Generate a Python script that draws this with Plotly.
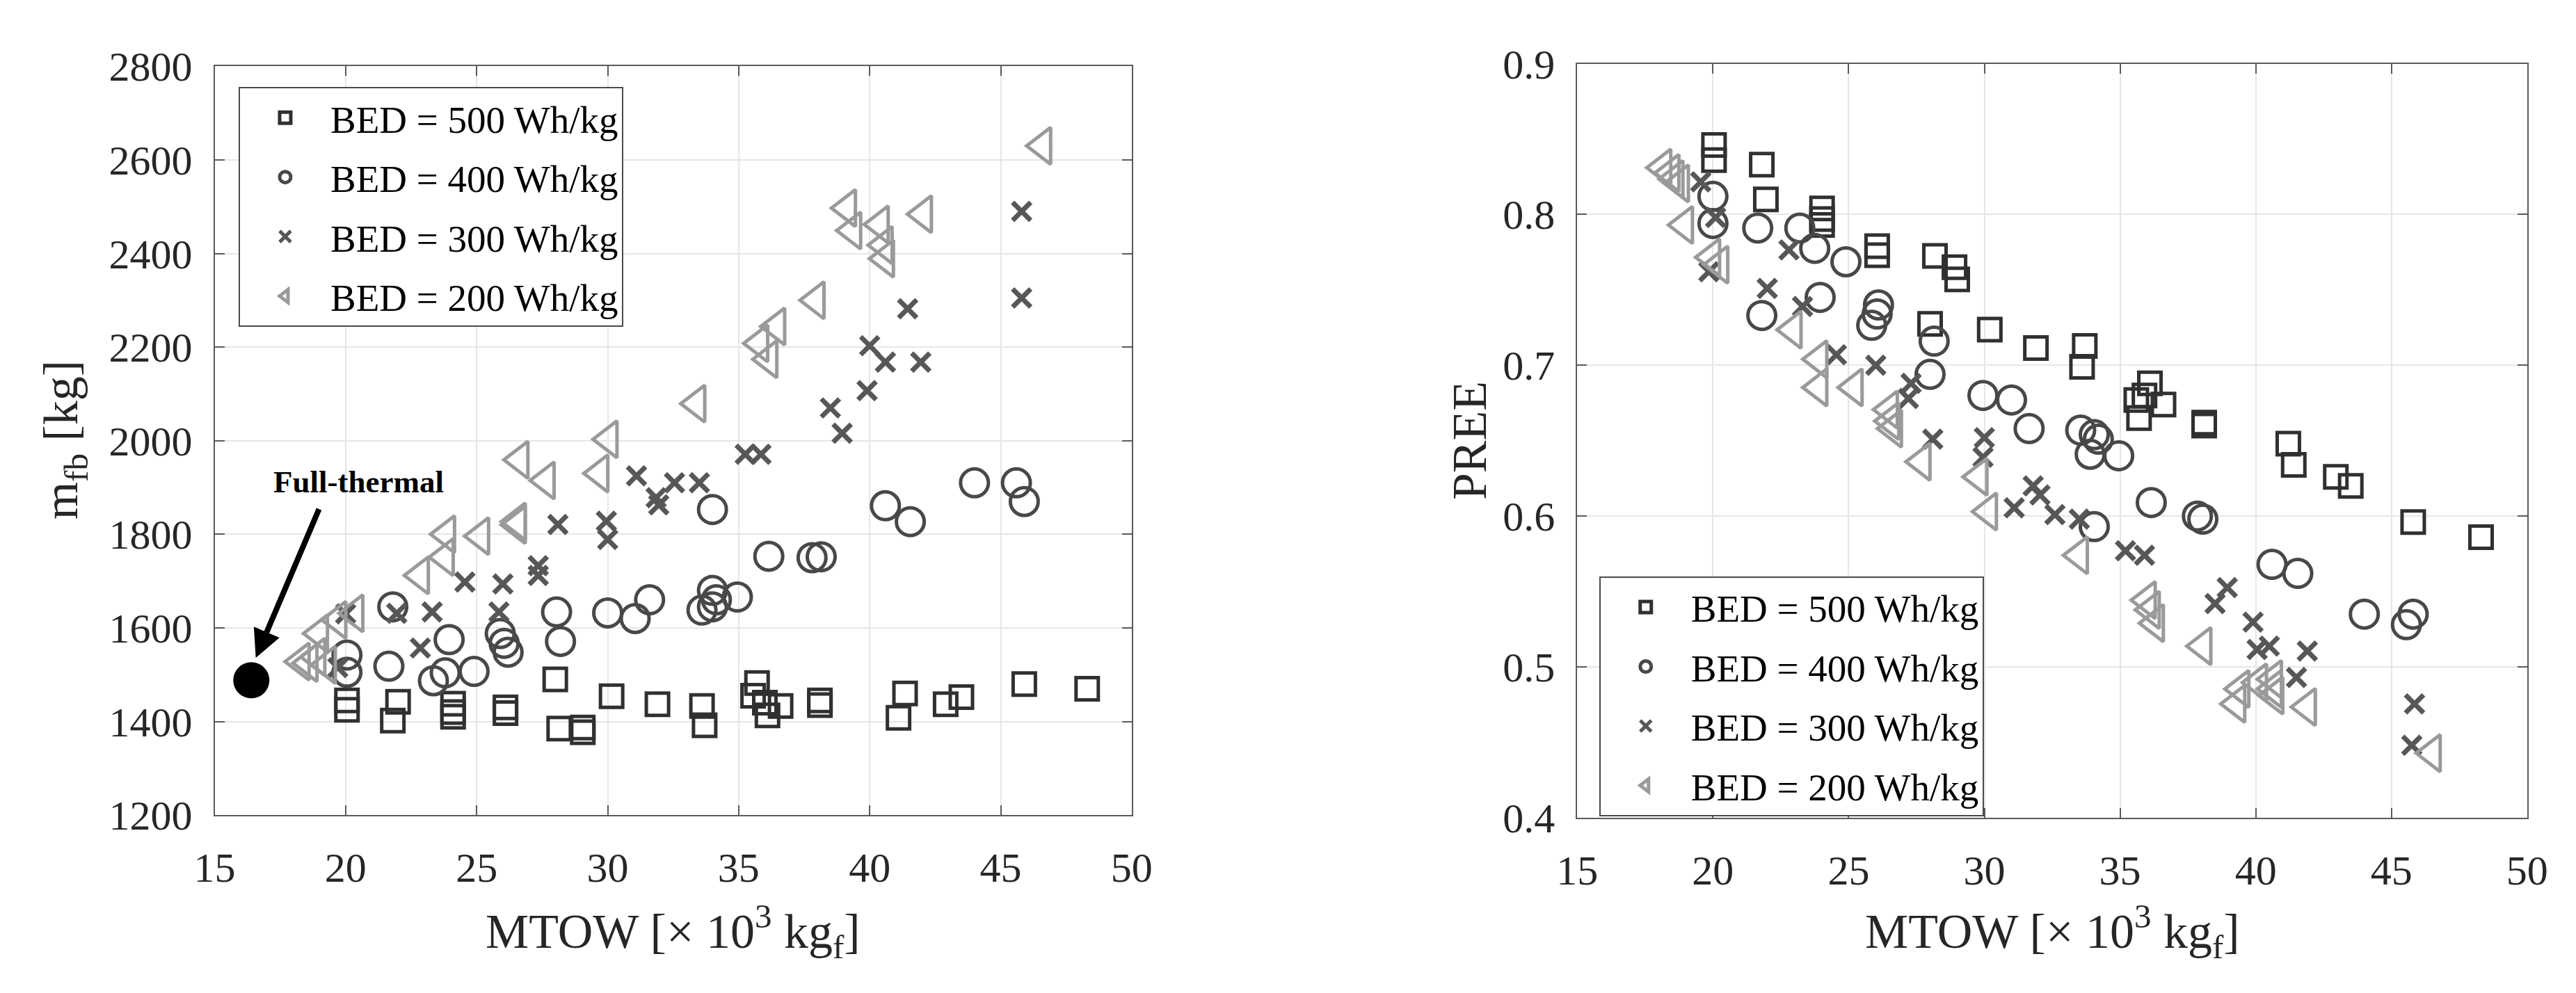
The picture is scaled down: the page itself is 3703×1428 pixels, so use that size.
import plotly.graph_objects as go

# ---------------- data ----------------
# Left panel: fuel burned m_fb [kg] vs MTOW [x10^3 kgf]
mtow500_l = [20.05, 20.05, 22.0, 21.8, 24.1, 24.1, 24.1, 26.1, 26.1, 28.0, 28.15, 29.05, 29.05,
             30.15, 31.9, 33.6, 33.7, 35.7, 35.55, 36.0, 36.1, 36.6, 38.1, 38.1, 41.35, 41.1,
             42.9, 43.5, 45.9, 48.3]
mfb500 = [1445, 1425, 1442, 1402, 1438, 1420, 1410, 1430, 1418, 1490, 1385, 1387, 1377,
          1454, 1437, 1433, 1392, 1482, 1455, 1440, 1413, 1433, 1445, 1435, 1460, 1408,
          1437, 1452, 1480, 1470]

mtow400_l = [20.05, 20.05, 21.8, 21.65, 23.95, 23.35, 23.8, 24.9, 25.9, 26.05, 26.2, 28.05, 28.2,
             30.0, 31.05, 31.6, 33.6, 34.0, 34.15, 34.0, 34.95, 34.0, 36.15, 37.8, 38.15,
             40.6, 41.55, 44.0, 45.6, 45.9]
mfb400 = [1542, 1505, 1645, 1518, 1575, 1487, 1504, 1507, 1588, 1567, 1548, 1634, 1571,
          1632, 1620, 1660, 1638, 1645, 1660, 1680, 1666, 1853, 1753, 1750, 1752,
          1861, 1827, 1910, 1910, 1870]

mtow300_l = [20.0, 19.7, 21.95, 23.3, 22.85, 24.55, 26.0, 25.85, 27.35, 27.35, 28.1, 29.95, 30.0,
             31.1, 31.85, 31.95, 32.55, 33.5, 35.25, 35.85, 38.5, 38.95, 39.9, 40.0, 40.6,
             41.45, 41.95, 45.8, 45.8]
mfb300 = [1630, 1515, 1631, 1634, 1557, 1698, 1694, 1634, 1733, 1712, 1821, 1828, 1789,
          1925, 1878, 1863, 1910, 1910, 1971, 1971, 2070, 2016, 2107, 2203, 2168,
          2282, 2168, 2490, 2305]

mtow200_l = [18.3, 18.6, 18.9, 19.3, 19.0, 19.7, 20.35, 22.85, 23.8, 23.85, 25.15, 26.55, 26.55,
             26.65, 27.65, 29.7, 30.05, 33.4, 35.8, 36.45, 36.15, 37.95, 39.15, 39.35, 40.4,
             40.55, 40.6, 42.05, 46.6]
mfb200 = [1528, 1525, 1538, 1521, 1588, 1617, 1631, 1712, 1751, 1800, 1796, 1827, 1820,
          1959, 1915, 1930, 2003, 2079, 2208, 2244, 2174, 2300, 2497, 2449, 2462,
          2418, 2389, 2484, 2630]

full_thermal_mtow = [16.4]
full_thermal_mfb = [1488]

# Right panel: PREE vs MTOW
mtow500_r = [20.04, 20.04, 21.8, 21.95, 24.02, 24.02, 24.02, 26.05, 26.05, 28.18, 28.9, 29.0,
             28.0, 30.2, 31.9, 33.7, 33.6, 36.1, 35.9, 35.6, 36.6, 35.7, 38.1, 38.1, 41.2, 41.4,
             42.95, 43.5, 45.8, 48.3]
pree500 = [0.846, 0.836, 0.833, 0.810, 0.804, 0.797, 0.793, 0.779, 0.773, 0.7725, 0.765, 0.757,
           0.7275, 0.7236, 0.7114, 0.7128, 0.699, 0.688, 0.680, 0.677, 0.674, 0.665, 0.662, 0.660,
           0.648, 0.634, 0.626, 0.620, 0.596, 0.586]

mtow400_r = [20.0, 20.0, 21.65, 21.8, 23.2, 23.75, 23.95, 24.9, 26.1, 26.05, 25.85, 28.15, 28.0,
             29.95, 31.0, 31.65, 33.55, 34.05, 34.2, 33.9, 34.95, 34.05, 36.15, 37.85, 38.05,
             40.6, 41.55, 44.0, 45.8, 45.55]
pree400 = [0.812, 0.794, 0.791, 0.733, 0.791, 0.7775, 0.745, 0.7686, 0.740, 0.734, 0.7265, 0.716,
           0.694, 0.680, 0.677, 0.658, 0.657, 0.654, 0.651, 0.641, 0.640, 0.593, 0.609, 0.600,
           0.598, 0.568, 0.562, 0.535, 0.535, 0.528]

mtow300_r = [19.55, 20.1, 19.85, 22.8, 22.0, 23.3, 24.55, 26.0, 27.3, 27.2, 28.1, 30.0, 29.95,
             31.8, 32.05, 31.1, 32.6, 33.5, 35.2, 35.9, 38.95, 38.5, 39.9, 40.05, 40.5, 41.9,
             41.5, 45.85, 45.75]
pree300 = [0.8216, 0.798, 0.762, 0.7765, 0.751, 0.739, 0.707, 0.700, 0.688, 0.678, 0.651, 0.652,
           0.639, 0.620, 0.614, 0.6055, 0.601, 0.598, 0.577, 0.574, 0.5526, 0.542, 0.5297, 0.5116,
           0.5138, 0.5105, 0.493, 0.4755, 0.448]

mtow200_r = [18.15, 18.45, 18.6, 18.8, 18.95, 19.95, 20.25, 22.95, 23.9, 23.9, 25.2, 26.5, 26.55,
             26.65, 27.7, 29.8, 30.15, 33.5, 36.0, 36.15, 36.3, 38.05, 39.45, 40.1, 40.65, 40.65,
             39.3, 40.7, 41.9, 46.5]
pree200 = [0.831, 0.8275, 0.8235, 0.8206, 0.793, 0.7716, 0.7667, 0.7235, 0.704, 0.6853, 0.6853,
           0.6706, 0.663, 0.658, 0.636, 0.626, 0.603, 0.574, 0.5443, 0.5378, 0.529, 0.5138, 0.4854,
           0.4897, 0.4919, 0.4854, 0.4755, 0.481, 0.4734, 0.4428]

series_names = ["BED = 500 Wh/kg", "BED = 400 Wh/kg", "BED = 300 Wh/kg", "BED = 200 Wh/kg"]
x_ticks = [15, 20, 25, 30, 35, 40, 45, 50]
mfb_ticks = [1200, 1400, 1600, 1800, 2000, 2200, 2400, 2600, 2800]
pree_ticks = [0.4, 0.5, 0.6, 0.7, 0.8, 0.9]

# ---------------- styles ----------------
FONT = "Liberation Serif"
styles = [
    dict(symbol="square-open", size=32, color="#303030", lw=5),
    dict(symbol="circle-open", size=40, color="#484848", lw=5),
    dict(symbol="x-thin-open", size=26, color="#575757", lw=7),
    dict(symbol="triangle-left-open", size=46, color="#9a9a9a", lw=5),
]

left_data = [(mtow500_l, mfb500), (mtow400_l, mfb400), (mtow300_l, mfb300), (mtow200_l, mfb200)]
right_data = [(mtow500_r, pree500), (mtow400_r, pree400), (mtow300_r, pree300), (mtow200_r, pree200)]

fig = go.Figure()

for i, ((xs, ys), st) in enumerate(zip(left_data, styles)):
    fig.add_trace(go.Scatter(
        x=xs, y=ys, mode="markers", name=series_names[i], legendgroup="l%d" % i,
        legend="legend", xaxis="x", yaxis="y",
        marker=dict(symbol=st["symbol"], size=st["size"], color=st["color"],
                    line=dict(width=st["lw"], color=st["color"])),
    ))

fig.add_trace(go.Scatter(
    x=full_thermal_mtow, y=full_thermal_mfb, mode="markers", name="Full-thermal",
    showlegend=False, xaxis="x", yaxis="y",
    marker=dict(symbol="circle", size=52, color="black"),
))

for i, ((xs, ys), st) in enumerate(zip(right_data, styles)):
    fig.add_trace(go.Scatter(
        x=xs, y=ys, mode="markers", name=series_names[i], legendgroup="r%d" % i,
        legend="legend2", xaxis="x2", yaxis="y2",
        marker=dict(symbol=st["symbol"], size=st["size"], color=st["color"],
                    line=dict(width=st["lw"], color=st["color"])),
    ))

W, H = 3703, 1428
axis_common = dict(
    showline=True, linecolor="#5a5a5a", linewidth=2, mirror="ticks",
    ticks="inside", ticklen=14, tickwidth=2, tickcolor="#5a5a5a",
    showgrid=True, gridcolor="#e6e6e6", gridwidth=2, zeroline=False,
    tickfont=dict(family=FONT, size=60, color="#262626"),
)

fig.update_layout(
    width=W, height=H,
    margin=dict(l=0, r=0, t=0, b=0),
    paper_bgcolor="white", plot_bgcolor="white",
    font=dict(family=FONT, color="#262626"),
    xaxis=dict(domain=[275 / W, 1615 / W], range=[15, 50], tickvals=x_ticks,
               anchor="y", ticklabelstandoff=22, **axis_common),
    yaxis=dict(domain=[(H - 1187) / H, (H - 58) / H], range=[1200, 2800], tickvals=mfb_ticks,
               anchor="x", ticklabelstandoff=18, **axis_common),
    xaxis2=dict(domain=[2266 / W, 3654 / W], range=[15, 50], tickvals=x_ticks,
                anchor="y2", ticklabelstandoff=22, **axis_common),
    yaxis2=dict(domain=[(H - 1191) / H, (H - 54) / H], range=[0.4, 0.9], tickvals=pree_ticks,
                tickformat=".1f", anchor="x2", ticklabelstandoff=18, **axis_common),
    legend=dict(x=310 / W, y=(H - 89) / H, xanchor="left", yanchor="top",
                bgcolor="white", bordercolor="#4a4a4a", borderwidth=2,
                font=dict(family=FONT, size=55, color="black"),
                tracegroupgap=11, itemwidth=120),
    legend2=dict(x=2298 / W, y=(H - 827) / H, xanchor="left", yanchor="top",
                 bgcolor="white", bordercolor="#4a4a4a", borderwidth=2,
                 font=dict(family=FONT, size=55, color="black"),
                 tracegroupgap=11, itemwidth=120),
    showlegend=True,
)

title_font = dict(family=FONT, size=70, color="#262626")
annotations = [
    dict(text="MTOW [× 10<sup>3</sup> kg<sub>f</sub>]", x=945 / W, y=(H - 1362) / H,
         xref="paper", yref="paper", showarrow=False, font=title_font,
         xanchor="center", yanchor="middle"),
    dict(text="MTOW [× 10<sup>3</sup> kg<sub>f</sub>]", x=2960 / W, y=(H - 1362) / H,
         xref="paper", yref="paper", showarrow=False, font=title_font,
         xanchor="center", yanchor="middle"),
    dict(text="m<sub>fb</sub> [kg]", x=56 / W, y=(H - 622) / H, textangle=-90,
         xref="paper", yref="paper", showarrow=False, font=title_font,
         xanchor="center", yanchor="middle"),
    dict(text="PREE", x=2108 / W, y=(H - 622) / H, textangle=-90,
         xref="paper", yref="paper", showarrow=False, font=title_font,
         xanchor="center", yanchor="middle"),
    dict(text="<b>Full-thermal</b>", x=20.5, y=1912, xref="x", yref="y", showarrow=False,
         font=dict(family=FONT, size=45, color="black"), xanchor="center", yanchor="middle"),
    dict(text="", x=16.57, y=1536, ax=19.0, ay=1856, xref="x", yref="y", axref="x", ayref="y",
         showarrow=True, arrowhead=2, arrowsize=1.0, arrowwidth=8, arrowcolor="black", standoff=0),
]
fig.update_layout(annotations=annotations)

fig.write_html("out.html")
